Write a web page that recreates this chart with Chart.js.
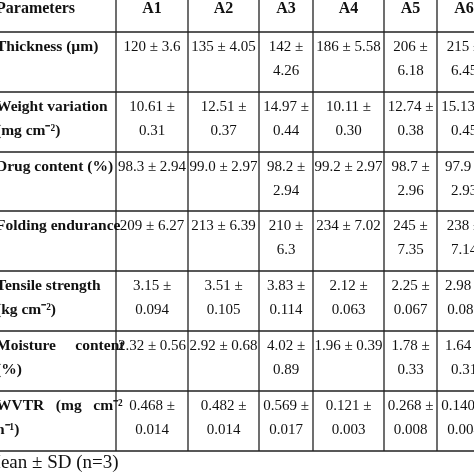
<!DOCTYPE html>
<html><head><meta charset="utf-8">
<script src="https://cdn.jsdelivr.net/npm/chart.js@4"></script>
<style>html,body{margin:0;padding:0;background:#fff}#wrap{width:474px;height:474px}</style>
</head><body><div id="wrap"><canvas id="tbl"></canvas></div>
<script>
// table content
const columns = ["A1", "A2", "A3", "A4", "A5", "A6"];
const params = [
  ["Thickness (µm)"],
  ["Weight variation", "(mg cm⁻²)"],
  ["Drug content (%)"],
  ["Folding endurance"],
  ["Tensile strength", "(kg cm⁻²)"],
  ["Moisture     content", "(%)"],
  ["WVTR   (mg   cm⁻²", "h⁻¹)"]
];
const means = [
  ["120", "135", "142", "186", "206", "215"],
  ["10.61", "12.51", "14.97", "10.11", "12.74", "15.13"],
  ["98.3", "99.0", "98.2", "99.2", "98.7", "97.9"],
  ["209", "213", "210", "234", "245", "238"],
  ["3.15", "3.51", "3.83", "2.12", "2.25", "2.98"],
  ["2.32", "2.92", "4.02", "1.96", "1.78", "1.64"],
  ["0.468", "0.482", "0.569", "0.121", "0.268", "0.140"]
];
const sds = [
  ["3.6", "4.05", "4.26", "5.58", "6.18", "6.45"],
  ["0.31", "0.37", "0.44", "0.30", "0.38", "0.45"],
  ["2.94", "2.97", "2.94", "2.97", "2.96", "2.93"],
  ["6.27", "6.39", "6.3", "7.02", "7.35", "7.14"],
  ["0.094", "0.105", "0.114", "0.063", "0.067", "0.089"],
  ["0.56", "0.68", "0.89", "0.39", "0.33", "0.31"],
  ["0.014", "0.014", "0.017", "0.003", "0.008", "0.004"]
];
const footnote = "Mean ± SD (n=3)";
// grid in picture units
const colEdges = [116, 188, 259, 313, 384, 437, 491];
const rowEdges = [32, 92, 152, 211, 271, 331, 391, 451];

const tablePlugin = {
  id: "tablePlugin",
  afterDraw(chart) {
    const c = chart.ctx, xs = chart.scales.x, ys = chart.scales.y;
    const X = v => xs.getPixelForValue(v), Y = v => ys.getPixelForValue(v);
    c.save();
    c.strokeStyle = "#222"; c.lineWidth = 1.3;
    c.beginPath();
    rowEdges.forEach(r => { c.moveTo(X(-5), Y(r)); c.lineTo(X(480), Y(r)); });
    colEdges.forEach(e => { c.moveTo(X(e), Y(0)); c.lineTo(X(e), Y(451)); });
    c.stroke();
    c.fillStyle = "#111"; c.textBaseline = "middle";
    // header
    c.font = "bold 16px 'Liberation Serif'";
    c.textAlign = "left"; c.fillText("Parameters", X(-4), Y(9));
    c.textAlign = "center";
    columns.forEach((h, i) => c.fillText(h, X((colEdges[i] + colEdges[i + 1]) / 2), Y(9)));
    // rows
    params.forEach((lines, r) => {
      const top = rowEdges[r];
      c.font = "bold 15.5px 'Liberation Serif'"; c.textAlign = "left";
      lines.forEach((t, k) => c.fillText(t, X(-4), Y(top + 15 + k * 24)));
      c.font = "15px 'Liberation Serif'"; c.textAlign = "center";
      means[r].forEach((m, i) => {
        const cx = X((colEdges[i] + colEdges[i + 1]) / 2);
        const w = X(colEdges[i + 1]) - X(colEdges[i]) - 2;
        const one = m + " ± " + sds[r][i];
        if (c.measureText(one).width <= w) c.fillText(one, cx, Y(top + 15));
        else { c.fillText(m + " ±", cx, Y(top + 15)); c.fillText(sds[r][i], cx, Y(top + 39)); }
      });
    });
    c.font = "19px 'Liberation Serif'"; c.textAlign = "left";
    c.fillText(footnote, X(-16), Y(463));
    c.restore();
  }
};

new Chart(document.getElementById("tbl"), {
  type: "scatter",
  data: { datasets: [{ data: [], pointRadius: 0 }] },
  options: {
    responsive: true, maintainAspectRatio: false, animation: false,
    layout: { padding: 0 },
    plugins: { legend: { display: false }, tooltip: { enabled: false } },
    scales: {
      x: { type: "linear", min: 0, max: 474, display: false },
      y: { type: "linear", min: 0, max: 474, reverse: true, display: false }
    }
  },
  plugins: [tablePlugin]
});
</script></body></html>
